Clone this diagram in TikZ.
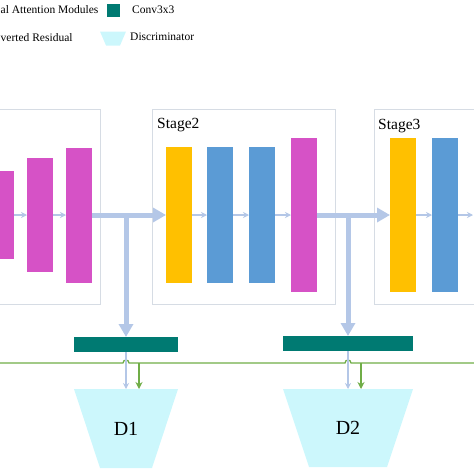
\documentclass[tikz,border=0pt]{standalone}
\usepackage{fontspec}
\setmainfont{Liberation Serif}
\usetikzlibrary{arrows.meta,calc}
\definecolor{mag}{HTML}{D652C6}
\definecolor{yel}{HTML}{FFC000}
\definecolor{blu}{HTML}{5B9BD5}
\definecolor{tealc}{HTML}{007A72}
\definecolor{cyanl}{HTML}{CCF7FC}
\definecolor{boxg}{HTML}{D6DCE4}
\definecolor{arr}{HTML}{B4C7E7}
\definecolor{grn}{HTML}{70AD47}
\tikzset{
  stagebox/.style={draw=boxg, line width=1pt, fill=white, inner sep=0},
  bar/.style={inner sep=0, outer sep=0, minimum width=26},
  magbar/.style={bar, fill=mag},
  yelbar/.style={bar, fill=yel},
  blubar/.style={bar, fill=blu},
  convbar/.style={fill=tealc, inner sep=0, outer sep=0, minimum height=15},
  smallarr/.style={draw=arr, line width=1.3pt, -{Stealth[length=6pt,width=6pt]}},
  bigarr/.style={draw=arr, line width=5pt, -{Triangle[length=13pt,width=14pt]}},
  feedarr/.style={draw=arr, line width=1.4pt, -{Stealth[length=6pt,width=6pt]}},
  greenline/.style={draw=grn, line width=1.3pt},
  greenarr/.style={draw=grn, line width=1.4pt, -{Stealth[length=7pt,width=7pt]}},
  dnode/.style={inner sep=0, outer sep=0,
    path picture={\fill[cyanl] (path picture bounding box.north west) -- (path picture bounding box.north east) -- ([xshift=-#1pt]path picture bounding box.south east) -- ([xshift=#1pt]path picture bounding box.south west) -- cycle;}},
  legtext/.style={inner sep=0, anchor=west, font=\fontsize{11.5}{13}\selectfont},
  stagetext/.style={inner sep=0, anchor=base west, font=\fontsize{15.5}{18}\selectfont},
}
\begin{document}
\begin{tikzpicture}[x=1pt,y=-1pt]
\useasboundingbox (0,0) rectangle (474,474);
\clip (0,0) rectangle (474,474);

% legend
\node[legtext] (lg1) at (0.5,10) {al Attention Modules};
\node[fill=tealc, minimum size=13, inner sep=0] (lgconv) at (113,10.5) {};
\node[legtext] (lg2) at (132,10) {Conv3x3};
\node[legtext] (lg3) at (0.5,38) {verted Residual};
\node[dnode=6, minimum width=26, minimum height=14] (lgd) at (113,38.5) {};
\node[legtext] (lg4) at (130,37) {Discriminator};

% stage boxes
\node[stagebox, minimum width=110, minimum height=195] (st1) at (45,206.5) {};
\node[stagebox, minimum width=183, minimum height=195] (st2) at (243.5,206.5) {};
\node[stagebox, minimum width=116, minimum height=195] (st3) at (432,206.5) {};
\node[stagetext] (lab2) at (157,128) {Stage2};
\node[stagetext] (lab3) at (378,129) {Stage3};

% stage1 bars
\node[magbar, minimum height=88] (s1a) at (1,215) {};
\node[magbar, minimum height=114] (s1b) at (40,215) {};
\node[magbar, minimum height=135] (s1c) at (79,215) {};
% stage2 bars
\node[yelbar, minimum height=136] (s2a) at (179,215) {};
\node[blubar, minimum height=136] (s2b) at (220,215) {};
\node[blubar, minimum height=136] (s2c) at (262,215) {};
\node[magbar, minimum height=154] (s2d) at (304,215) {};
% stage3 bars
\node[yelbar, minimum height=154] (s3a) at (403,215) {};
\node[blubar, minimum height=154] (s3b) at (445,215) {};
\coordinate (out3) at (473,215);

% small arrows
\draw[smallarr] (s1a.east) -- (s1b.west);
\draw[smallarr] (s1b.east) -- (s1c.west);
\draw[smallarr] (s2a.east) -- (s2b.west);
\draw[smallarr] (s2b.east) -- (s2c.west);
\draw[smallarr] (s2c.east) -- (s2d.west);
\draw[smallarr] (s3a.east) -- (s3b.west);
\draw[smallarr] (s3b.east) -- (out3);

% conv bars
\node[convbar, minimum width=104] (t1) at (126,344.5) {};
\node[convbar, minimum width=130] (t2) at (348,343.5) {};

% big arrows
\draw[bigarr] (t1.north |- s1c.east) -- (t1.north);
\draw[bigarr] (t2.north |- s2d.east) -- (t2.north);
\draw[bigarr] (s1c.east) -- (s2a.west);
\draw[bigarr] (s2d.east) -- (s3a.west);

% discriminators
\node[dnode=26, minimum width=104, minimum height=79, font=\fontsize{20}{24}\selectfont] (d1) at (126,428.5) {D1};
\node[dnode=26, minimum width=130, minimum height=78, font=\fontsize{20}{24}\selectfont] (d2) at (348,428) {D2};

% green line with hops
\coordinate (gL) at (0,363);
\coordinate (gR) at (474,363);
\draw[greenline] (gL) -- ($(t1.south |- gL)+(-3,0)$) arc[start angle=180, end angle=360, radius=3]
  -- ($(t2.south |- gL)+(-3,0)$) arc[start angle=180, end angle=360, radius=3] -- (gR);

% feed arrows
\draw[feedarr] (t1.south) -- (t1.south |- d1.north);
\draw[feedarr] (t2.south) -- (t2.south |- d2.north);
\draw[greenarr] ($(t1.south |- gL)+(13,0)$) -- ($(t1.south |- d1.north)+(13,0)$);
\draw[greenarr] ($(t2.south |- gL)+(13,0)$) -- ($(t2.south |- d2.north)+(13,0)$);
\end{tikzpicture}
\end{document}
